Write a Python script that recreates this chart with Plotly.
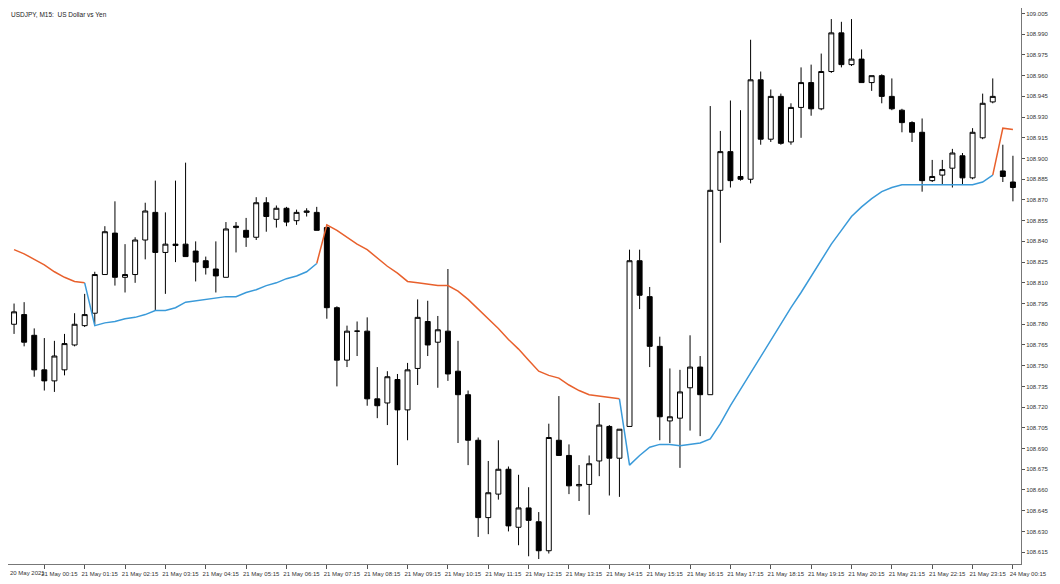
import plotly.graph_objects as go
import numpy as np

# OHLC data, USDJPY M15
opens = [108.780, 108.787, 108.772, 108.747, 108.739, 108.747, 108.765, 108.779, 108.788, 108.816,
         108.846, 108.814, 108.816, 108.841, 108.861, 108.832, 108.837, 108.838, 108.833, 108.826,
         108.820, 108.814, 108.850, 108.848, 108.843, 108.868, 108.856, 108.864, 108.855, 108.861,
         108.861, 108.850, 108.792, 108.754, 108.775, 108.775, 108.726, 108.723, 108.740, 108.718,
         108.748, 108.782, 108.767, 108.775, 108.746, 108.729, 108.696, 108.640, 108.657, 108.675,
         108.633, 108.647, 108.637, 108.616, 108.696, 108.685, 108.663, 108.664, 108.681, 108.706,
         108.683, 108.706, 108.826, 108.800, 108.764, 108.710, 108.712, 108.734, 108.749, 108.729,
         108.877, 108.905, 108.887, 108.885, 108.957, 108.914, 108.945, 108.912, 108.937, 108.955,
         108.936, 108.963, 108.991, 108.968, 108.972, 108.955, 108.960, 108.945, 108.935, 108.926,
         108.919, 108.884, 108.888, 108.893, 108.902, 108.886, 108.915, 108.941, 108.891, 108.883]
highs = [108.795, 108.796, 108.777, 108.770, 108.768, 108.773, 108.788, 108.802, 108.818, 108.851,
         108.869, 108.838, 108.843, 108.868, 108.884, 108.861, 108.884, 108.897, 108.840, 108.829,
         108.840, 108.854, 108.854, 108.857, 108.872, 108.872, 108.866, 108.865, 108.863, 108.864,
         108.865, 108.852, 108.793, 108.779, 108.782, 108.785, 108.749, 108.746, 108.744, 108.752,
         108.798, 108.797, 108.786, 108.820, 108.768, 108.732, 108.698, 108.681, 108.696, 108.677,
         108.671, 108.662, 108.644, 108.708, 108.728, 108.693, 108.678, 108.685, 108.723, 108.707,
         108.704, 108.834, 108.834, 108.807, 108.771, 108.748, 108.747, 108.772, 108.757, 108.938,
         108.920, 108.942, 108.935, 108.986, 108.963, 108.950, 108.947, 108.940, 108.966, 108.968,
         108.976, 109.001, 108.999, 109.001, 108.979, 108.960, 108.961, 108.958, 108.936, 108.927,
         108.929, 108.899, 108.899, 108.907, 108.904, 108.922, 108.947, 108.958, 108.910, 108.902]
lows = [108.773, 108.764, 108.742, 108.732, 108.731, 108.743, 108.764, 108.778, 108.780, 108.816,
        108.808, 108.803, 108.810, 108.827, 108.790, 108.802, 108.825, 108.829, 108.811, 108.816,
        108.803, 108.814, 108.832, 108.836, 108.841, 108.847, 108.850, 108.851, 108.852, 108.858,
        108.848, 108.784, 108.735, 108.749, 108.757, 108.721, 108.712, 108.707, 108.678, 108.696,
        108.736, 108.757, 108.734, 108.739, 108.694, 108.678, 108.626, 108.628, 108.653, 108.630,
        108.620, 108.612, 108.610, 108.614, 108.685, 108.657, 108.652, 108.642, 108.670, 108.656,
        108.655, 108.706, 108.791, 108.749, 108.696, 108.694, 108.676, 108.703, 108.699, 108.729,
        108.839, 108.879, 108.884, 108.882, 108.910, 108.912, 108.910, 108.910, 108.915, 108.931,
        108.935, 108.962, 108.966, 108.967, 108.955, 108.949, 108.940, 108.935, 108.919, 108.912,
        108.876, 108.883, 108.881, 108.879, 108.881, 108.885, 108.914, 108.940, 108.883, 108.869]
closes = [108.789, 108.767, 108.747, 108.739, 108.757, 108.766, 108.780, 108.787, 108.816, 108.847,
          108.814, 108.816, 108.841, 108.862, 108.832, 108.838, 108.838, 108.829, 108.825, 108.821,
          108.815, 108.849, 108.851, 108.843, 108.868, 108.858, 108.864, 108.854, 108.861, 108.862,
          108.848, 108.792, 108.754, 108.775, 108.775, 108.726, 108.721, 108.742, 108.718, 108.747,
          108.785, 108.765, 108.776, 108.744, 108.729, 108.696, 108.640, 108.658, 108.675, 108.634,
          108.647, 108.638, 108.616, 108.698, 108.685, 108.663, 108.664, 108.679, 108.707, 108.683,
          108.704, 108.826, 108.801, 108.764, 108.713, 108.713, 108.731, 108.749, 108.729, 108.877,
          108.905, 108.884, 108.885, 108.957, 108.914, 108.945, 108.911, 108.937, 108.955, 108.936,
          108.963, 108.991, 108.968, 108.972, 108.955, 108.960, 108.945, 108.936, 108.926, 108.919,
          108.884, 108.887, 108.892, 108.904, 108.886, 108.919, 108.940, 108.945, 108.887, 108.879]

# indicator line (colour switches with trend)
trend_line = [108.834, 108.831, 108.827, 108.823, 108.818, 108.814, 108.811, 108.810, 108.779, 108.781,
              108.782, 108.784, 108.785, 108.787, 108.790, 108.790, 108.792, 108.796, 108.797, 108.798,
              108.799, 108.800, 108.800, 108.803, 108.805, 108.808, 108.810, 108.813, 108.815, 108.818,
              108.824, 108.852, 108.848, 108.843, 108.838, 108.834, 108.828, 108.822, 108.817, 108.811,
              108.810, 108.809, 108.808, 108.808, 108.804, 108.798, 108.791, 108.784, 108.777, 108.769,
              108.762, 108.754, 108.746, 108.743, 108.741, 108.736, 108.732, 108.729, 108.728, 108.727,
              108.726, 108.678, 108.685, 108.691, 108.693, 108.693, 108.692, 108.693, 108.694, 108.697,
              108.708, 108.721, 108.733, 108.745, 108.757, 108.768, 108.780, 108.792, 108.803, 108.815,
              108.826, 108.838, 108.848, 108.858, 108.865, 108.871, 108.876, 108.879, 108.881, 108.881,
              108.881, 108.881, 108.881, 108.881, 108.881, 108.881, 108.883, 108.888, 108.922, 108.921]
down_spans = [(0, 7), (30, 60), (97, 99)]   # orange parts
up_spans = [(7, 30), (60, 97)]              # blue parts

hours = ["00:15", "01:15", "02:15", "03:15", "04:15", "05:15", "06:15", "07:15", "08:15", "09:15",
         "10:15", "11:15", "12:15", "13:15", "14:15", "15:15", "16:15", "17:15", "18:15", "19:15",
         "20:15", "21:15", "22:15", "23:15"]

x = list(range(len(opens)))


def masked(spans):
    out = [None] * len(trend_line)
    for a, b in spans:
        for i in range(a, b + 1):
            out[i] = trend_line[i]
    return out


fig = go.Figure()
fig.add_trace(go.Candlestick(
    x=x, open=opens, high=highs, low=lows, close=closes,
    increasing=dict(line=dict(color="black", width=1), fillcolor="white"),
    decreasing=dict(line=dict(color="black", width=1), fillcolor="black"),
    whiskerwidth=0, showlegend=False, hoverinfo="skip"))
fig.add_trace(go.Scatter(x=x, y=masked(down_spans), mode="lines",
                         line=dict(color="#e8602c", width=1.5), showlegend=False))
fig.add_trace(go.Scatter(x=x, y=masked(up_spans), mode="lines",
                         line=dict(color="#3a9ad9", width=1.5), showlegend=False))

tick_vals = [3 + 4 * i for i in range(len(hours))] + [99]
tick_text = ["21 May " + h for h in hours] + ["24 May 00:15"]
price_ticks = np.round(np.arange(108.615, 109.0051, 0.015), 3)

# the page has an 8px body margin, so keep the figure a bit smaller than the window
fig.update_layout(
    width=1044, height=576,
    margin=dict(l=0, r=31, t=0, b=20, autoexpand=False),
    paper_bgcolor="white", plot_bgcolor="white",
    font=dict(family="Liberation Sans", size=6, color="#333"),
    xaxis=dict(range=[-0.6, 99.8], rangeslider=dict(visible=False), tickvals=tick_vals,
               ticktext=tick_text, tickangle=0, ticks="outside", ticklen=4, tickcolor="#555",
               ticklabelshift=15, showgrid=False, zeroline=False, automargin=False,
               showline=True, linecolor="#777", mirror=True),
    yaxis=dict(range=[108.6064, 109.009], side="right", tickvals=price_ticks,
               ticktext=[f"{v:.3f}" for v in price_ticks], ticks="outside", ticklen=3,
               tickcolor="#555", showgrid=False, zeroline=False, automargin=False,
               showline=True, linecolor="#777", mirror=True),
    annotations=[
        dict(text="USDJPY, M15:  US Dollar vs Yen", xref="paper", yref="paper", x=0.001, y=0.999,
             xanchor="left", yanchor="top", showarrow=False, font=dict(size=6.5, color="#222")),
        dict(text="20 May 2021", xref="paper", yref="paper", x=0, y=-0.008,
             xanchor="left", yanchor="top", showarrow=False, font=dict(size=6, color="#333")),
    ],
)

fig.write_html("out.html")
